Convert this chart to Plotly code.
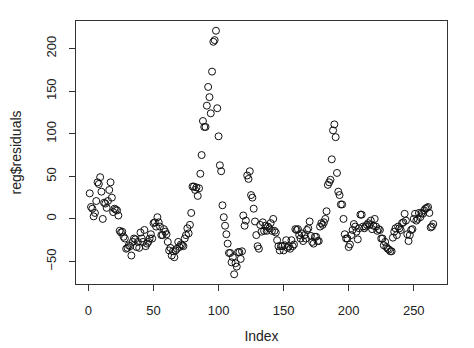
import plotly.graph_objects as go

residuals = [
    30, 14, 12, 3, 7, 21, 43, 41, 49, 32,
    0, 19, 18, 13, 21, 34, 43, 25, 8, 12,
    11, 10, 4, -14, -16, -15, -21, -23, -35, -34,
    -31, -32, -43, -27, -23, -24, -33, -27, -34, -16,
    -23, -27, -13, -32, -29, -27, -23, -18, -23, -5,
    -4, -9, 2, -4, -9, -19, -19, -12, -15, -18,
    -27, -37, -34, -43, -38, -45, -37, -35, -27, -33,
    -30, -31, -32, -23, -19, -11, -17, -7, 7, 38,
    38, 34, 37, 27, 36, 53, 75, 115, 108, 108,
    133, 155, 143, 124, 173, 208, 210, 221, 130, 97,
    63, 56, 16, 2, -8, -18, -29, -40, -40, -51,
    -45, -65, -52, -56, -39, -39, -47, -38, 4, -8,
    -2, 51, 47, 56, 28, 25, 12, -3, -19, -32,
    -35, -7, -15, -4, -14, -8, -14, -9, -11, -5,
    -14, 0, -14, -16, -25, -32, -37, -32, -32, -37,
    -31, -25, -34, -32, -35, -25, -32, -30, -12, -13,
    -12, -19, -23, -17, -26, -19, -23, -13, -11, -3,
    -20, -27, -29, -21, -21, -26, -26, -9, -5, -7,
    -4, 0, 9, 40, 43, 46, 70, 104, 111, 96,
    54, 32, 28, 17, 17, 0, -18, -23, -23, -33,
    -30, -19, -13, -6, -9, -15, -24, -11, 5, 5,
    -9, -11, -9, -7, -5, -7, -2, -12, -8, 0,
    -9, -14, -12, -13, -23, -23, -31, -27, -33, -35,
    -36, -38, -38, -22, -15, -11, -19, -9, -11, -13,
    -5, -4, 6, -2, -18, -26, -19, -13, -12, 0,
    6, -2, 0, 7, 2, 7, 6, 10, 12, 13,
    14, 7, -10, -9, -6,
]
index = list(range(1, len(residuals) + 1))

xticks = [0, 50, 100, 150, 200, 250]
yticks = [-50, 0, 50, 100, 150, 200]

n = len(index)
xr = [1 - 0.04 * (n - 1), n + 0.04 * (n - 1)]
ymin, ymax = min(residuals), max(residuals)
yr = [ymin - 0.04 * (ymax - ymin), ymax + 0.04 * (ymax - ymin)]

font = "Liberation Sans, Arial, Helvetica, sans-serif"

fig = go.Figure(go.Scatter(
    x=index, y=residuals, mode="markers",
    marker=dict(symbol="circle-open", size=7, color="#111",
                line=dict(width=1, color="#111")),
))

axis_common = dict(
    showline=True, linecolor="#333", linewidth=1, mirror=True,
    ticks="outside", ticklen=6, tickcolor="#333", tickwidth=1,
    showgrid=False, zeroline=False, automargin=False,
    tickfont=dict(family=font, size=13, color="#222"),
)

fig.update_layout(
    width=474, height=348,
    margin=dict(l=68, r=35, t=13, b=72),
    paper_bgcolor="white", plot_bgcolor="white",
    showlegend=False,
    xaxis=dict(range=xr, tickvals=xticks, ticklabelstandoff=8,
               title=dict(text="Index", font=dict(family=font, size=14, color="#222"), standoff=14),
               **axis_common),
    yaxis=dict(range=yr, tickvals=yticks, tickangle=-90, ticklabelstandoff=8,
               title=dict(text="reg$residuals", font=dict(family=font, size=14, color="#222"), standoff=18),
               **axis_common),
)

fig.write_html("out.html")
